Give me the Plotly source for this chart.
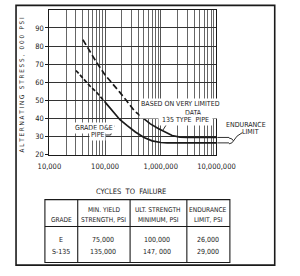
import plotly.graph_objects as go

# ---- data ----
cycles_s135 = [40e3, 55e3, 70e3, 100e3, 130e3, 180e3, 240e3, 340e3, 470e3, 650e3, 900e3, 1.2e6, 1.6e6, 2.2e6, 3e6, 10e6]
stress_s135 = [83.5, 76.5, 71.0, 64.0, 60.0, 54.8, 50.0, 44.0, 40.5, 37.0, 34.5, 32.5, 30.6, 29.7, 29.5, 29.5]
s135_dash_end = 8  # dashed portion (limited data) up to this index

cycles_e = [30e3, 40e3, 55e3, 70e3, 100e3, 140e3, 185e3, 250e3, 350e3, 500e3, 700e3, 1.0e6, 1.3e6, 10e6]
stress_e = [66.5, 62.0, 57.5, 54.5, 49.0, 43.5, 39.3, 36.0, 32.5, 29.5, 27.6, 26.7, 26.5, 26.5]
e_dash_end = 4

x_tick_vals = [1e4, 1e5, 1e6, 1e7]
x_tick_text = ["10,000", "100,000", "1,000,000", "10,000,000"]
y_tick_vals = [20, 30, 40, 50, 60, 70, 80, 90]
minor_x = [m * 10 ** d for d in (4, 5, 6) for m in range(2, 10)]

table_header = ["GRADE", "MIN. YIELD<br>STRENGTH, PSI", "ULT. STRENGTH<br>MINIMUM, PSI", "ENDURANCE<br>LIMIT, PSI"]
grades = ["E", "S-135"]
min_yield = ["75,000", "135,000"]
ult_strength = ["100,000", "147, 000"]
endurance_limit = ["26,000", "29,000"]

W, H = 300, 276
FONT = "Liberation Sans Narrow, DejaVu Sans Condensed, Liberation Sans, sans-serif"
INK = "#1a1a1a"


def px(x):
    return x / W


def py(y):
    return 1 - y / H


fig = go.Figure()
line_style = dict(color=INK, width=1.7)
fig.add_trace(go.Scatter(x=cycles_s135[:s135_dash_end + 1], y=stress_s135[:s135_dash_end + 1], mode="lines",
                         line=dict(line_style, dash="6px,3px"), showlegend=False, hoverinfo="skip"))
fig.add_trace(go.Scatter(x=cycles_s135[s135_dash_end:], y=stress_s135[s135_dash_end:], mode="lines",
                         line=line_style, showlegend=False, hoverinfo="skip"))
fig.add_trace(go.Scatter(x=cycles_e[:e_dash_end + 1], y=stress_e[:e_dash_end + 1], mode="lines",
                         line=dict(line_style, dash="4px,2px"), showlegend=False, hoverinfo="skip"))
fig.add_trace(go.Scatter(x=cycles_e[e_dash_end:], y=stress_e[e_dash_end:], mode="lines",
                         line=line_style, showlegend=False, hoverinfo="skip"))

fig.update_layout(
    width=W, height=H, margin=dict(l=0, r=0, t=0, b=0),
    paper_bgcolor="white", plot_bgcolor="white",
    font=dict(family=FONT, size=7.5, color=INK),
    xaxis=dict(type="log", range=[4, 7], domain=[px(41.7), px(228)],
               tickvals=x_tick_vals, ticktext=x_tick_text, ticks="", ticklabelstandoff=4,
               showgrid=True, gridcolor="#555", gridwidth=0.8,
               minor=dict(tickvals=minor_x, showgrid=True, gridcolor="#666", gridwidth=0.7, ticks=""),
               showline=True, linecolor=INK, linewidth=1.2, mirror=True, zeroline=False),
    yaxis=dict(range=[20, 100], domain=[py(157.5), py(10)],
               tickvals=y_tick_vals, ticks="outside", ticklen=3, tickcolor=INK,
               showgrid=True, gridcolor="#333", gridwidth=1.1,
               showline=True, linecolor=INK, linewidth=1.2, mirror=True, zeroline=False),
)

shapes = []
# outer border
shapes.append(dict(type="rect", xref="paper", yref="paper", x0=px(4.5), x1=px(293), y0=py(270), y1=py(5.5),
                   line=dict(color=INK, width=1.6)))
# endurance limit extensions and bracket
for lvl in (stress_s135[-1], stress_e[-1]):
    shapes.append(dict(type="line", xref="paper", yref="y", x0=px(229), x1=px(242), y0=lvl, y1=lvl,
                       line=dict(color=INK, width=0.9)))
shapes.append(dict(type="path", xref="paper", yref="paper",
                   path=f"M {px(242)},{py(140.5)} Q {px(246)},{py(141)} {px(247)},{py(143.5)} "
                        f"Q {px(246)},{py(146)} {px(242)},{py(146.5)} "
                        f"M {px(247)},{py(143.5)} Q {px(250)},{py(138)} {px(257)},{py(135)}",
                   line=dict(color=INK, width=0.9)))
# leaders
shapes.append(dict(type="line", xref="paper", yref="paper", x0=px(151), y0=py(110.5), x1=px(145.5), y1=py(117.5),
                   line=dict(color=INK, width=0.9)))
shapes.append(dict(type="line", xref="paper", yref="paper", x0=px(173.5), y0=py(125), x1=px(168), y1=py(133),
                   line=dict(color=INK, width=0.9)))
shapes.append(dict(type="path", xref="paper", yref="paper",
                   path=f"M {px(104)},{py(137.5)} L {px(110)},{py(137.5)} L {px(114)},{py(128)}",
                   line=dict(color=INK, width=0.9)))

# table
tx0, tx1, ty0, ty1, thead = 36.7, 243, 203.3, 267.3, 230.7
col_x = [73.3, 131.7, 195]
shapes.append(dict(type="rect", xref="paper", yref="paper", x0=px(tx0), x1=px(tx1), y0=py(ty1), y1=py(ty0),
                   line=dict(color=INK, width=1.1)))
shapes.append(dict(type="line", xref="paper", yref="paper", x0=px(tx0), x1=px(tx1), y0=py(thead), y1=py(thead),
                   line=dict(color=INK, width=1.1)))
for cx in col_x:
    shapes.append(dict(type="line", xref="paper", yref="paper", x0=px(cx), x1=px(cx), y0=py(ty0), y1=py(ty1),
                       line=dict(color=INK, width=1.1)))
fig.update_layout(shapes=shapes)

ann = []


def text(x, y, s, size=7, xanchor="center", bg=None, align="center", textangle=0):
    d = dict(x=px(x), y=py(y), xref="paper", yref="paper", text=s, showarrow=False,
             xanchor=xanchor, yanchor="middle", align=align, textangle=textangle,
             font=dict(size=size, family=FONT, color=INK))
    if bg:
        d.update(bgcolor=bg, borderpad=1)
    ann.append(d)


text(10, 86, "A L T E R N A T I N G   S T R E S S ,   0 0 0   P S I", size=6.3, textangle=-90)
text(133, 195, "CYCLES  TO  FAILURE", size=7.5)
text(188, 110.5, "BASED ON VERY LIMITED<br>                      DATA", size=7, bg="white", align="left")
text(194, 122.5, " 135 TYPE  PIPE ", size=7, bg="white")
text(91, 130, "GRADE D&E", size=7, bg="white")
text(95, 137.5, "PIPE", size=7, bg="white")
text(261, 127, "ENDURANCE", size=7)
text(266, 134.5, "LIMIT", size=7)

col_centers = [55, 102.5, 163, 219]
for i, h in enumerate(table_header):
    parts = h.split("<br>")
    if len(parts) == 1:
        text(col_centers[i], 224, parts[0], size=6.6)
    else:
        text(col_centers[i], 213.5, parts[0], size=6.6)
        text(col_centers[i], 224.5, parts[1], size=6.6)
row_y = [244.5, 256.5]
for j in range(len(grades)):
    text(col_centers[0], row_y[j], grades[j], size=7)
    text(col_centers[1] - 1.5, row_y[j], min_yield[j], size=7)
    text(col_centers[2] - 1, row_y[j], ult_strength[j], size=7)
    text(col_centers[3], row_y[j], endurance_limit[j], size=7)

fig.update_layout(annotations=ann)
fig.write_html("out.html")
